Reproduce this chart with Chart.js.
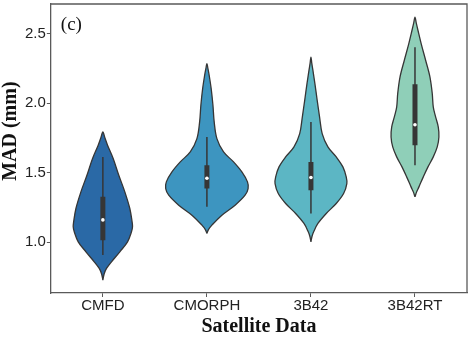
<!DOCTYPE html>
<html>
<head>
<meta charset="utf-8">
<script src="https://cdn.jsdelivr.net/npm/chart.js@4/dist/chart.umd.min.js"></script>
<style>
  html, body { margin: 0; padding: 0; background: #fff; }
  #wrap { width: 474px; height: 339px; }
</style>
</head>
<body>
<div id="wrap"><canvas id="violins" width="474" height="339"></canvas></div>
<script>
const categories = ['CMFD', 'CMORPH', '3B42', '3B42RT'];
const yTicks = [1.0, 1.5, 2.0, 2.5];
const colors = ['#2a69a6', '#3d95c0', '#5cb6c4', '#8fcfb8'];

// density outlines: MAD level and half width (in category units)
const cmfdLevels = [0.726, 0.77, 0.81, 0.858, 0.93, 1.002, 1.074, 1.11, 1.146, 1.242, 1.362, 1.482, 1.602, 1.698, 1.75, 1.794];
const cmfdWidths = [0, 0.012, 0.035, 0.083, 0.163, 0.237, 0.275, 0.285, 0.281, 0.259, 0.211, 0.153, 0.099, 0.045, 0.02, 0];

const cmorphLevels = [1.062, 1.09, 1.122, 1.194, 1.266, 1.338, 1.386, 1.434, 1.506, 1.578, 1.65, 1.746, 1.866, 1.986, 2.106, 2.201, 2.25, 2.286];
const cmorphWidths = [0, 0.015, 0.048, 0.144, 0.271, 0.367, 0.396, 0.39, 0.336, 0.256, 0.16, 0.096, 0.07, 0.058, 0.041, 0.022, 0.01, 0];

const trmmLevels = [1.002, 1.04, 1.074, 1.134, 1.206, 1.278, 1.35, 1.422, 1.47, 1.542, 1.614, 1.686, 1.782, 1.901, 2.022, 2.142, 2.237, 2.29, 2.333];
const trmmWidths = [0, 0.01, 0.026, 0.067, 0.147, 0.243, 0.314, 0.345, 0.339, 0.307, 0.243, 0.163, 0.108, 0.083, 0.06, 0.038, 0.019, 0.008, 0];

const trmmRtLevels = [1.326, 1.36, 1.398, 1.47, 1.542, 1.614, 1.686, 1.758, 1.829, 1.901, 1.973, 2.07, 2.189, 2.309, 2.429, 2.525, 2.58, 2.621];
const trmmRtWidths = [0, 0.015, 0.038, 0.08, 0.125, 0.176, 0.214, 0.23, 0.224, 0.199, 0.176, 0.166, 0.144, 0.103, 0.06, 0.029, 0.012, 0];

// inner box: whiskers, quartiles, median
const whiskerLow = [0.906, 1.254, 1.206, 1.554];
const q1 = [1.014, 1.386, 1.374, 1.698];
const median = [1.16, 1.46, 1.465, 1.846];
const q3 = [1.326, 1.554, 1.578, 2.137];
const whiskerHigh = [1.614, 1.758, 1.866, 2.405];

const outlines = [
  [cmfdLevels, cmfdWidths],
  [cmorphLevels, cmorphWidths],
  [trmmLevels, trmmWidths],
  [trmmRtLevels, trmmRtWidths]
];

function violinPoints(center, levels, widths) {
  const pts = [];
  for (let i = 0; i < levels.length; i++) pts.push({x: center - widths[i], y: levels[i]});
  for (let i = levels.length - 2; i >= 0; i--) pts.push({x: center + widths[i], y: levels[i]});
  return pts;
}

const edge = '#363636';
const datasets = [];

outlines.forEach(([levels, widths], i) => {
  datasets.push({
    type: 'line',
    data: violinPoints(i, levels, widths),
    borderColor: edge,
    borderWidth: 1.3,
    backgroundColor: colors[i],
    fill: 'shape',
    tension: 0.35,
    pointRadius: 0,
    order: 3
  });
  datasets.push({
    type: 'line',
    data: [{x: i, y: whiskerLow[i]}, {x: i, y: whiskerHigh[i]}],
    borderColor: edge,
    borderWidth: 1.5,
    pointRadius: 0,
    fill: false,
    order: 2
  });
  datasets.push({
    type: 'line',
    data: [{x: i, y: q1[i]}, {x: i, y: q3[i]}],
    borderColor: edge,
    borderWidth: 5,
    borderCapStyle: 'butt',
    pointRadius: 0,
    fill: false,
    order: 1
  });
  datasets.push({
    type: 'scatter',
    data: [{x: i, y: median[i]}],
    pointRadius: 1.8,
    pointBackgroundColor: '#ffffff',
    pointBorderWidth: 0,
    order: 0
  });
});

const titleFont = {family: 'Liberation Serif', size: 20, weight: 'bold'};

// top and right sides of the frame, the panel letter and the y title
const framePlugin = {
  id: 'frame',
  afterDraw(chart) {
    const {ctx, chartArea: a} = chart;
    ctx.save();
    ctx.strokeStyle = '#5a5a5a';
    ctx.lineWidth = 1.3;
    ctx.beginPath();
    ctx.moveTo(a.left, a.top);
    ctx.lineTo(a.right, a.top);
    ctx.lineTo(a.right, a.bottom);
    ctx.stroke();

    ctx.fillStyle = '#111';
    ctx.font = '19px "Liberation Serif"';
    ctx.textBaseline = 'top';
    ctx.fillText('(c)', a.left + 10, a.top + 12);

    ctx.translate(11, a.top + (a.bottom - a.top) * 0.44);
    ctx.rotate(-Math.PI / 2);
    ctx.font = 'bold 20px "Liberation Serif"';
    ctx.textAlign = 'center';
    ctx.textBaseline = 'middle';
    ctx.fillText('MAD (mm)', 0, 0);
    ctx.restore();
  }
};

const tickFont = {family: 'Liberation Sans', size: 15};

new Chart(document.getElementById('violins'), {
  type: 'line',
  data: {datasets: datasets},
  plugins: [framePlugin],
  options: {
    responsive: false,
    animation: false,
    events: [],
    layout: {padding: {top: 3, right: 7, left: 0, bottom: 0}},
    plugins: {legend: {display: false}, tooltip: {enabled: false}},
    scales: {
      x: {
        type: 'linear',
        min: -0.5,
        max: 3.5,
        afterBuildTicks: axis => { axis.ticks = categories.map((c, i) => ({value: i})); },
        afterFit: axis => { axis.paddingLeft = 0; axis.paddingRight = 0; },
        ticks: {
          font: tickFont,
          color: '#222',
          padding: 0,
          callback: v => categories[v]
        },
        grid: {display: true, drawOnChartArea: false, drawTicks: true, tickLength: 4, color: '#5a5a5a'},
        border: {display: true, color: '#5a5a5a', width: 1.3},
        title: {display: true, text: 'Satellite Data', font: titleFont, color: '#111', padding: 0}
      },
      y: {
        type: 'linear',
        min: 0.633,
        max: 2.716,
        afterBuildTicks: axis => { axis.ticks = yTicks.map(v => ({value: v})); },
        afterFit: axis => { axis.paddingTop = 0; axis.paddingBottom = 0; axis.width += 24; },
        ticks: {
          font: tickFont,
          color: '#222',
          padding: 1,
          callback: v => v.toFixed(1)
        },
        grid: {display: true, drawOnChartArea: false, drawTicks: true, tickLength: 4, color: '#5a5a5a'},
        border: {display: true, color: '#5a5a5a', width: 1.3}
      }
    }
  }
});
</script>
</body>
</html>
